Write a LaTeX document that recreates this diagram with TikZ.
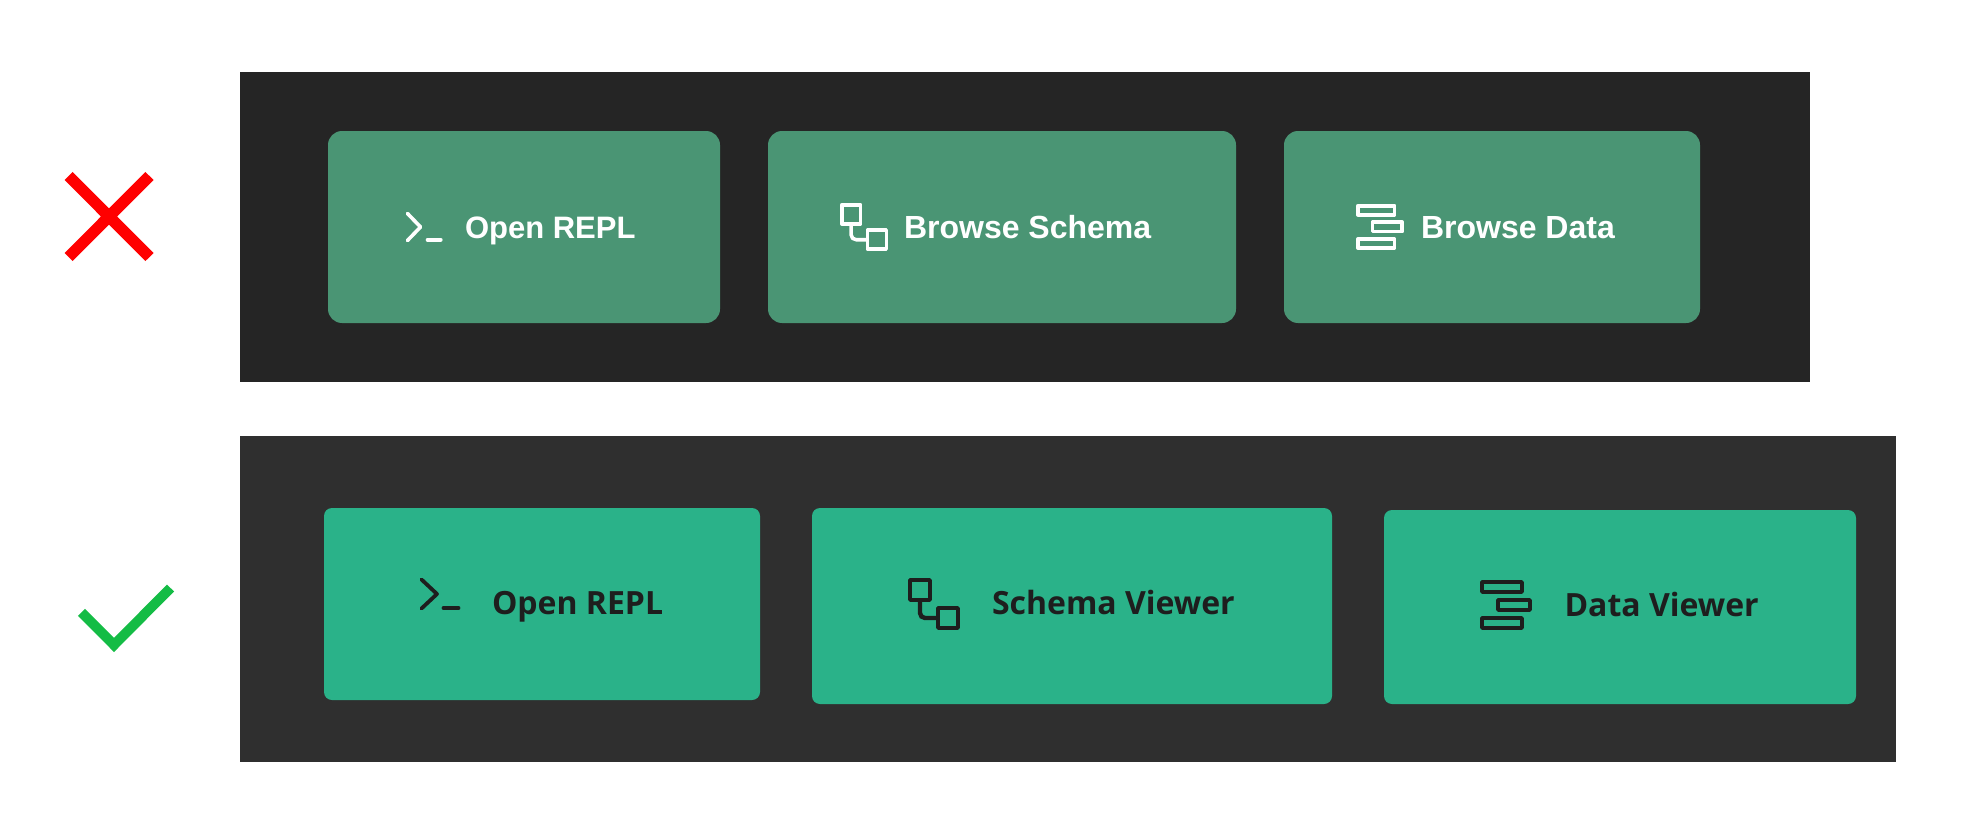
\documentclass[tikz,border=0pt]{standalone}
\usepackage{fontspec}
\newfontfamily\topfont{Liberation Sans}[BoldFont={* Bold}]
\newfontfamily\botfont{Open Sans}
\definecolor{panelA}{HTML}{252525}
\definecolor{panelB}{HTML}{2F2F2F}
\definecolor{btnA}{HTML}{4A9574}
\definecolor{btnB}{HTML}{2AB289}
\definecolor{inkB}{HTML}{1E1E1E}
\definecolor{crossred}{HTML}{FF0000}
\definecolor{tickgreen}{HTML}{14BC45}
\tikzset{
  panel/.style={rectangle,inner sep=0pt,outer sep=0pt},
  btna/.style={rectangle,fill=btnA,rounded corners=14pt,inner sep=0pt,outer sep=0pt,minimum height=192pt},
  btnb/.style={rectangle,fill=btnB,rounded corners=8pt,inner sep=0pt,outer sep=0pt},
  labela/.style={anchor=base west,inner sep=0pt,outer sep=0pt,text=white,font=\topfont\bfseries\fontsize{32}{38}\selectfont},
  labelb/.style={anchor=base west,inner sep=0pt,outer sep=0pt,text=inkB,font=\botfont\bfseries\fontsize{32}{38}\selectfont},
  icona/.style={rectangle,draw=white,line width=3.6pt,line join=round,inner sep=0pt,outer sep=0pt},
  iconb/.style={rectangle,draw=inkB,line width=4.4pt,line join=round,inner sep=0pt,outer sep=0pt},
  strokea/.style={draw=white,line width=3.6pt,line cap=round,line join=round},
  strokeb/.style={draw=inkB,line width=3.8pt,line cap=round,line join=round},
}
\begin{document}
\begin{tikzpicture}[x=1pt,y=-1pt]
\useasboundingbox (0,0) rectangle (1966,816);
\fill[white] (0,0) rectangle (1966,816);
% cross
\coordinate (xa) at (68.6,176); \coordinate (xb) at (149.5,257);
\coordinate (xc) at (149.5,176); \coordinate (xd) at (68.6,257);
\draw[crossred,line width=11.4pt] (xa) -- (xb) (xc) -- (xd);
% tick
\coordinate (ta) at (81.5,612.3); \coordinate (tb) at (114,645); \coordinate (tc) at (170.5,588);
\draw[tickgreen,line width=9.9pt,miter limit=10] (ta) -- (tb) -- (tc);
% panels
\node[panel,fill=panelA,minimum width=1570pt,minimum height=310pt] (panela) at (1025,227) {};
\node[panel,fill=panelB,minimum width=1656pt,minimum height=326pt] (panelb) at (1068,599) {};
% upper buttons
\node[btna,minimum width=392pt] (a1) at (524,227) {};
\node[btna,minimum width=468pt] (a2) at (1002,227) {};
\node[btna,minimum width=416pt] (a3) at (1492,227) {};
\node[labela,font=\topfont\bfseries\fontsize{31}{38}\selectfont] (a1t) at (465,238.7) {Open REPL};
\node[labela] (a2t) at (904,238.7) {Browse Schema};
\node[labela] (a3t) at (1421,238.7) {Browse Data};
% upper icons
\coordinate (ca) at (407.5,213.5); \coordinate (cb) at (420.5,227); \coordinate (cc) at (407.5,240.5);
\draw[strokea] (ca) -- (cb) -- (cc);
\coordinate (ua) at (427.5,239.7); \coordinate (ub) at (440.8,239.7);
\draw[strokea] (ua) -- (ub);
\node[icona,minimum width=18.8pt,minimum height=19pt] (as1) at (851.1,214.3) {};
\node[icona,minimum width=18.8pt,minimum height=19pt] (as2) at (876.9,239.7) {};
\draw[strokea,line cap=butt,rounded corners=5pt] (as1.south) |- (as2.west);
\node[icona,minimum width=36.7pt,minimum height=9pt] (ad1) at (1376.2,210.2) {};
\node[icona,minimum width=29.7pt,minimum height=9.4pt] (ad2) at (1387.4,226.8) {};
\node[icona,minimum width=36.7pt,minimum height=9pt] (ad3) at (1376.2,243.4) {};
% lower buttons
\node[btnb,minimum width=436pt,minimum height=192pt] (b1) at (542,604) {};
\node[btnb,minimum width=520pt,minimum height=196pt] (b2) at (1072,606) {};
\node[btnb,minimum width=472pt,minimum height=194pt] (b3) at (1620,607) {};
\node[labelb] (b1t) at (492,614) {Open REPL};
\node[labelb] (b2t) at (992,614) {Schema Viewer};
\node[labelb] (b3t) at (1564.5,616) {Data Viewer};
% lower icons
\coordinate (da) at (421.5,579.5); \coordinate (db) at (437,594); \coordinate (dc) at (421.5,608.5);
\draw[strokeb] (da) -- (db) -- (dc);
\coordinate (va) at (443.5,608); \coordinate (vb) at (458.5,608);
\draw[strokeb] (va) -- (vb);
\node[iconb,minimum width=19.6pt,minimum height=19.6pt] (bs1) at (920,590) {};
\node[iconb,minimum width=19.6pt,minimum height=19.6pt] (bs2) at (948,618) {};
\draw[inkB,line width=4.4pt,rounded corners=5pt] (bs1.south) |- (bs2.west);
\node[iconb,minimum width=39.6pt,minimum height=9.6pt] (bd1) at (1502,587) {};
\node[iconb,minimum width=31.6pt,minimum height=9.6pt] (bd2) at (1514,605) {};
\node[iconb,minimum width=39.6pt,minimum height=9.6pt] (bd3) at (1502,623) {};
\end{tikzpicture}
\end{document}
